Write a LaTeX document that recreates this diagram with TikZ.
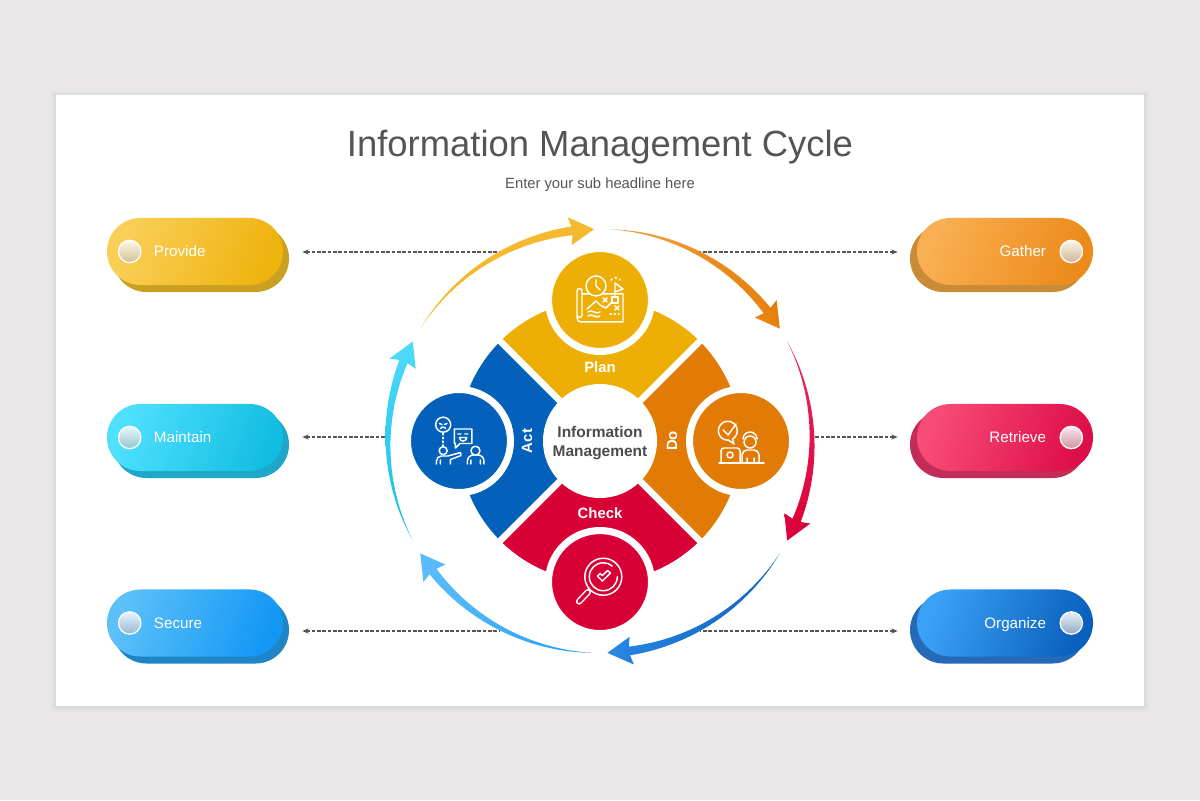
\documentclass[tikz,border=0pt]{standalone}
\usepackage{fontspec}
\setmainfont{Liberation Sans}
\usetikzlibrary{arrows.meta,positioning}

\definecolor{pagegrey}{HTML}{E9E7E8}
\definecolor{inktext}{HTML}{555555}
\definecolor{plancol}{HTML}{EDAF06}
\definecolor{docol}{HTML}{E27B05}
\definecolor{checkcol}{HTML}{D90035}
\definecolor{actcol}{HTML}{0361BC}
\definecolor{yellowb}{HTML}{F4B92E}
\definecolor{orangea}{HTML}{F6AE50}
\definecolor{orangeb}{HTML}{E47B05}
\definecolor{reda}{HTML}{EC2B5E}
\definecolor{redb}{HTML}{D90038}
\definecolor{bluea}{HTML}{0B62BE}
\definecolor{blueb}{HTML}{2B8BE6}
\definecolor{skya}{HTML}{149BF5}
\definecolor{skyb}{HTML}{62BEFC}
\definecolor{cyana}{HTML}{0FBEE4}
\definecolor{cyanb}{HTML}{50DAFB}
\definecolor{providea}{HTML}{F9CF58}
\definecolor{provideb}{HTML}{EFB30E}
\definecolor{providec}{HTML}{C9A01F}
\definecolor{maintaina}{HTML}{4FE0FE}
\definecolor{maintainb}{HTML}{12BDE2}
\definecolor{maintainc}{HTML}{1FA6C9}
\definecolor{securea}{HTML}{5CC0F9}
\definecolor{secureb}{HTML}{1397F5}
\definecolor{securec}{HTML}{1F85C5}
\definecolor{gathera}{HTML}{F9B053}
\definecolor{gatherb}{HTML}{EC8A1A}
\definecolor{gatherc}{HTML}{C98B36}
\definecolor{retrievea}{HTML}{F84C78}
\definecolor{retrieveb}{HTML}{DE0E48}
\definecolor{retrievec}{HTML}{C22C58}
\definecolor{organizea}{HTML}{3AA2F6}
\definecolor{organizeb}{HTML}{0A61BD}
\definecolor{organizec}{HTML}{2569B9}

\begin{document}
\begin{tikzpicture}[
  x=0.025cm, y=-0.025cm,
  node distance=0.8125cm,
  pill/.style={rectangle, rounded corners=0.8375cm, minimum width=4.4cm, minimum height=1.675cm, inner xsep=0pt, text width=2.05cm, text height=7.8pt, text depth=0pt, text=white, font=\fontsize{10.8}{13}\selectfont},
  pillrear/.style={rectangle, rounded corners=0.8375cm, minimum width=4.4cm, minimum height=1.675cm, fill=#1},
  dot/.style={circle, draw=white, line width=0.9pt, minimum size=0.56cm, inner sep=0pt, top color=#1!10!white, bottom color=#1!45!gray!60!white},
  stage/.style={circle, draw=white, line width=5pt, minimum size=2.575cm, inner sep=0pt, outer sep=0pt, fill=#1},
  seglabel/.style={text=white, font=\fontsize{10.6}{13}\selectfont\bfseries, inner sep=1pt},
  gapline/.style={white, line width=4.6pt},
  link/.style={{Stealth[length=1.6mm,width=1.3mm]}-, inktext, line width=0.85pt, dash pattern=on 2.6pt off 1.2pt},
  icon/.style={white, line width=1.05pt, line join=round, line cap=round}
]
\useasboundingbox (0,0) rectangle (1200,800);
\fill[pagegrey] (0,0) rectangle (1200,800);
\foreach \s in {1,2,3,4,5} \fill[black, opacity=0.012] (56-\s,95-\s+1) rectangle (1144+\s,706+\s+1);
\fill[white] (56,95) rectangle (1144,706);

\node[text=inktext, font=\fontsize{25.9}{30}\selectfont] (title) at (600,147) {Information Management Cycle};
\node[text=inktext, font=\fontsize{10.5}{13}\selectfont, below=0.1cm of title] (subtitle) {Enter your sub headline here};

% free ends of the dashed links
\coordinate (provideend) at (508,252);
\coordinate (maintainend) at (388,437);
\coordinate (secureend) at (500,631);
\coordinate (gatherend) at (692,252);
\coordinate (retrieveend) at (812,437);
\coordinate (organizeend) at (700,631);

% left pills
\node[pillrear=providec] (providerear) at (201,258.5) {};
\node[pill, align=left, left color=providea, right color=provideb, shading angle=70] (provide) at (195,251.5) {Provide};
\node[pillrear=maintainc] (maintainrear) at (201,444.5) {};
\node[pill, align=left, left color=maintaina, right color=maintainb, shading angle=70] (maintain) at (195,437.5) {Maintain};
\node[pillrear=securec] (securerear) at (201,630) {};
\node[pill, align=left, left color=securea, right color=secureb, shading angle=70] (secure) at (195,623) {Secure};
% right pills
\node[pillrear=gatherc] (gatherrear) at (998,258.5) {};
\node[pill, align=right, left color=gathera, right color=gatherb, shading angle=70] (gather) at (1005,251.5) {Gather};
\node[pillrear=retrievec] (retrieverear) at (998,444.5) {};
\node[pill, align=right, left color=retrievea, right color=retrieveb, shading angle=70] (retrieve) at (1005,437.5) {Retrieve};
\node[pillrear=organizec] (organizerear) at (998,630) {};
\node[pill, align=right, left color=organizea, right color=organizeb, shading angle=70] (organize) at (1005,623) {Organize};

\node[dot=provideb] (providedot) at ([xshift=0.575cm]provide.west) {};
\node[dot=maintainb] (maintaindot) at ([xshift=0.575cm]maintain.west) {};
\node[dot=secureb] (securedot) at ([xshift=0.575cm]secure.west) {};
\node[dot=gatherb] (gatherdot) at ([xshift=-0.55cm]gather.east) {};
\node[dot=retrieveb] (retrievedot) at ([xshift=-0.55cm]retrieve.east) {};
\node[dot=organizeb] (organizedot) at ([xshift=-0.55cm]organize.east) {};

\draw[link, shorten <=0.475cm] (provide.east |- provideend) -- (provideend);
\draw[link, shorten <=0.475cm] (maintain.east |- maintainend) -- (maintainend);
\draw[link, shorten <=0.475cm] (secure.east |- secureend) -- (secureend);
\draw[link, shorten <=0.475cm] (gather.west |- gatherend) -- (gatherend);
\draw[link, shorten <=0.475cm] (retrieve.west |- retrieveend) -- (retrieveend);
\draw[link, shorten <=0.475cm] (organize.west |- organizeend) -- (organizeend);

% cycle arrows, clockwise: start, end, colours, shading angle
\foreach \a/\b/\ca/\cb/\sh in {-147.5/-91.6/yellowb/yellowb/90, -87.5/-32/orangea/orangeb/115, -28/28/reda/redb/0, 32/88/bluea/blueb/250, 92/148/skya/skyb/290, 152/208/cyana/cyanb/180}{
  \pgfmathsetmacro{\c}{\b-6}
  \shade[left color=\ca, right color=\cb, shading angle=\sh]
    plot[domain=\a:\c, samples=40] ({600+(212+4.4*(\x-\a)/(\c-\a))*cos(\x)}, {441+(212+4.4*(\x-\a)/(\c-\a))*sin(\x)})
    -- ({600+226*cos(\b-6.6)}, {441+226*sin(\b-6.6)})
    -- ({600+212*cos(\b)}, {441+212*sin(\b)})
    -- ({600+198*cos(\b-6.6)}, {441+198*sin(\b-6.6)})
    -- plot[domain=\c:\a, samples=40] ({600+(212-4.4*(\x-\a)/(\c-\a))*cos(\x)}, {441+(212-4.4*(\x-\a)/(\c-\a))*sin(\x)})
    -- cycle;
}

% wheel
\fill[plancol] (600,441) -- ++(-135:141) arc (-135:-45:141) -- cycle;
\fill[docol] (600,441) -- ++(-45:141) arc (-45:45:141) -- cycle;
\fill[checkcol] (600,441) -- ++(45:141) arc (45:135:141) -- cycle;
\fill[actcol] (600,441) -- ++(135:141) arc (135:225:141) -- cycle;
\node[circle, fill=white, minimum size=2.85cm, inner sep=0pt, outer sep=0pt] (hub) at (600,441) {};
\node[align=center, text=inktext!90!black, font=\fontsize{11}{13.6}\selectfont\bfseries] (hubtext) at ([yshift=-0.05cm]hub.center) {Information\\Management};
\draw[gapline] (hub.45) -- ++(-45:100);
\draw[gapline] (hub.135) -- ++(-135:100);
\draw[gapline] (hub.225) -- ++(135:100);
\draw[gapline] (hub.315) -- ++(45:100);

\node[stage=plancol, above=of hub] (plan) {};
\node[stage=docol, right=of hub] (do) {};
\node[stage=checkcol, below=of hub] (check) {};
\node[stage=actcol, left=of hub] (act) {};

\node[seglabel] (plantext) at (600,367) {Plan};
\node[seglabel] (checktext) at (600,513) {Check};
\node[seglabel, rotate=90] (acttext) at (527,441) {Act};
\node[seglabel, rotate=90] (dotext) at (672,441) {Do};

% plan icon
\begin{scope}[shift={(plan.center)}]
  \draw[icon] (-18,-6) -- (23,-6) -- (23,22) -- (-19,22) arc (90:180:4) -- (-23,-9) arc (180:360:2.5) -- (-18,15) arc (0:180:2.5);
  \fill[plancol] (-4,-14) circle[radius=10];
  \draw[icon] (-4,-14) circle[radius=10];
  \draw[icon] (-4,-20) -- (-4,-14) -- (0,-10);
  \draw[icon] (15,-2) -- (15,-17) -- (23,-11) -- (15,-8);
  \draw[icon] (-13,9) -- (-4,1) -- (0,5) -- (6,8) -- (13,1);
  \fill[plancol] (12,-3) rectangle (18,3);
  \draw[icon] (12,-3) rectangle (18,3);
  \draw[icon] (3,-2) -- (7,2) (7,-2) -- (3,2) (15,6) -- (19,10) (19,6) -- (15,10);
  \draw[icon] (-12,12) sin (-9,11) cos (-6,12) sin (-3,13) cos (0,12) (-12,16) sin (-9,15) cos (-6,16) sin (-3,17) cos (0,16);
  \draw[icon, dash pattern=on 1pt off 2pt] (10,14) -- (19,14);
  \draw[icon, dash pattern=on 1pt off 2.4pt] (11,-20) -- (14,-22) -- (18,-22) -- (20,-20);
\end{scope}

% do icon
\begin{scope}[shift={(do.center)}]
  \draw[icon] (-12.4,-0.8) arc (85:420:9.5) -- (-7,3) -- cycle;
  \draw[icon] (-18,-11) -- (-13,-6) -- (-5,-17);
  \draw[icon, rounded corners=2pt] (-20,22) -- (-20,7) -- (-1,7) -- (-1,22);
  \draw[icon] (-11,14) circle[radius=3];
  \draw[icon] (-22,22) -- (23,22);
  \draw[icon] (9,1) circle[radius=6];
  \draw[icon] (2,-2) arc (180:360:7);
  \draw[icon] (1,22) -- (1,14) arc (180:270:5) -- (13,9) arc (270:360:5) -- (18,22) (6,22) -- (6,17) (13,22) -- (13,17);
\end{scope}

% check icon
\begin{scope}[shift={(check.center)}]
  \draw[icon] (3.3,-5.3) circle[radius=18.5];
  \draw[icon] (17.3,-5.3) arc (0:310:14);
  \draw[icon] (-2.5,-6) -- (2.3,-1) -- (10.5,-9) -- (7.5,-11.5) -- (2.3,-6.5) -- (0,-8.5) -- cycle;
  \draw[icon, double=checkcol, double distance=2.4pt] (-12,10) -- (-21,19.5);
\end{scope}

% act icon
\begin{scope}[shift={(act.center)}]
  \draw[icon] (-15.8,-16.3) circle[radius=7.5];
  \draw[icon] (-19.5,-17.5) -- (-17,-16.5) (-12,-17.5) -- (-14.5,-16.5) (-18.5,-12.5) arc (210:330:3);
  \draw[icon, dash pattern=on 1pt off 1.7pt] (-15.8,-7.5) -- (-15.8,4.5);
  \draw[icon] (-4.5,-12) -- (13,-12) -- (13,2.5) -- (1,2.5) -- (-3.5,7) -- (-3.5,2.5) -- (-4.5,2.5) -- cycle;
  \draw[icon] (-1,-7) -- (2,-7) (6,-7) -- (9,-7) (0.5,-3.5) arc (180:0:3.6) -- cycle;
  \draw[icon] (-15.8,9.7) circle[radius=4];
  \draw[icon] (-22.5,23) -- (-22.5,20) arc (180:270:5) -- (-11,15) -- (1.5,11.5) -- (2,14.5) -- (-8.5,18.5) -- (-8.5,23) (-18.5,23) -- (-18.5,19);
  \draw[icon] (16.5,9.7) circle[radius=4.5];
  \draw[icon] (8.5,23) -- (8.5,20) arc (180:270:6) -- (19,14) arc (270:360:6) -- (25,23) (12,23) -- (12,19) (21.5,23) -- (21.5,19);
\end{scope}
\end{tikzpicture}
\end{document}
